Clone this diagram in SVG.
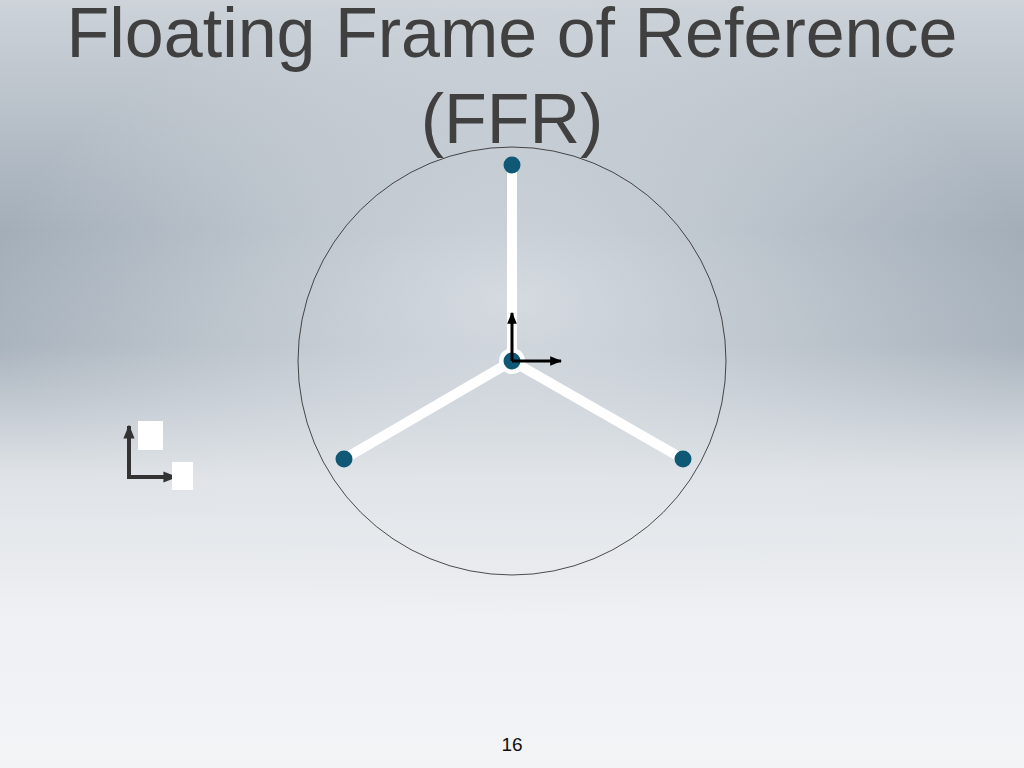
<svg xmlns="http://www.w3.org/2000/svg" width="1024" height="768" viewBox="0 0 1024 768">
<defs>
<linearGradient id="bg" x1="0" y1="0" x2="0" y2="1">
<stop offset="0" stop-color="#cdd3d9"/>
<stop offset="0.3" stop-color="#a3aeb9"/>
<stop offset="0.45" stop-color="#aab4be"/>
<stop offset="0.62" stop-color="#dfe3e7"/>
<stop offset="0.8" stop-color="#eef0f3"/>
<stop offset="1" stop-color="#f3f4f6"/>
</linearGradient>
<radialGradient id="glow" cx="512" cy="300" r="520" gradientUnits="userSpaceOnUse" gradientTransform="translate(512 300) scale(1 0.6) translate(-512 -300)">
<stop offset="0" stop-color="#e4e8ec" stop-opacity="0.75"/>
<stop offset="0.6" stop-color="#e4e8ec" stop-opacity="0.3"/>
<stop offset="1" stop-color="#e4e8ec" stop-opacity="0"/>
</radialGradient>
<marker id="ah" viewBox="0 0 10 10" refX="9" refY="5" markerWidth="4" markerHeight="4" orient="auto" markerUnits="strokeWidth">
<path d="M0,1 L10,5 L0,9 z" fill="#000"/>
</marker>
<marker id="ahg" viewBox="0 0 10 10" refX="9" refY="5" markerWidth="3.5" markerHeight="3.5" orient="auto" markerUnits="strokeWidth">
<path d="M0,1 L10,5 L0,9 z" fill="#333"/>
</marker>
<style>
.title{font-family:"Liberation Sans",Arial,sans-serif;font-size:70px;fill:#404040;text-anchor:middle}
.bar{stroke:#fff;stroke-width:10;stroke-linecap:butt;fill:none}
.dot{fill:#0f5876}
.ax{stroke:#000;stroke-width:3;fill:none;marker-end:url(#ah)}
.axg{stroke:#333;stroke-width:4;fill:none;marker-end:url(#ahg)}
.ph{fill:#fff}
</style>
</defs>
<rect width="1024" height="768" fill="url(#bg)"/>
<rect width="1024" height="768" fill="url(#glow)"/>
<g id="title">
<text class="title" x="512" y="57">Floating Frame of Reference</text>
<text class="title" x="512" y="143">(FFR)</text>
</g>
<g id="circle">
<circle cx="512" cy="361" r="214" fill="none" stroke="#222" stroke-width="0.8"/>
</g>
<g id="connectors">
<line class="bar" x1="512" y1="361" x2="512" y2="165"/>
<line class="bar" x1="512" y1="361" x2="344" y2="459"/>
<line class="bar" x1="512" y1="361" x2="683" y2="459"/>
</g>
<g id="node-center">
<circle cx="512" cy="361" r="13" fill="#fff"/>
<circle class="dot" cx="512" cy="361" r="8.5"/>
</g>
<g id="node-top"><circle class="dot" cx="512" cy="165" r="8.5"/></g>
<g id="node-left"><circle class="dot" cx="344" cy="459" r="8.5"/></g>
<g id="node-right"><circle class="dot" cx="683" cy="459" r="8.5"/></g>
<g id="local-axes">
<line class="ax" x1="512" y1="361" x2="512" y2="313"/>
<line class="ax" x1="512" y1="361" x2="561" y2="361"/>
</g>
<g id="global-axes">
<line class="axg" x1="129" y1="479" x2="129" y2="426"/>
<line class="axg" x1="127" y1="477" x2="176" y2="477"/>
<rect class="ph" x="138" y="421" width="25" height="29"/>
<rect class="ph" x="172" y="462" width="21" height="28"/>
</g>
<g id="page">
<text x="512" y="751" font-family="Liberation Sans,Arial,sans-serif" font-size="19" fill="#111" text-anchor="middle">16</text>
</g>
</svg>
